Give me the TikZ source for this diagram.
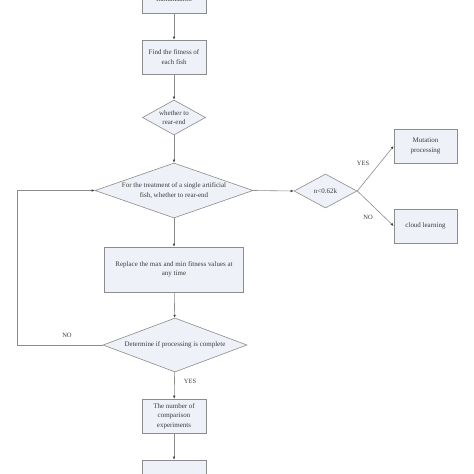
\documentclass[tikz,border=0pt]{standalone}
\usepackage{fontspec}
\setmainfont{Liberation Serif}
\usepackage{xcolor}
\usetikzlibrary{shapes.geometric, arrows.meta, positioning}

\definecolor{boxfill}{HTML}{EEF1F8}
\definecolor{boxline}{HTML}{8C8C8C}
\definecolor{textgray}{HTML}{3C3C3C}

\begin{document}
\begin{tikzpicture}[x=1bp, y=-1bp,
    procbox/.style={rectangle, draw=boxline, fill=boxfill, line width=0.6bp, minimum width=64bp, minimum height=34bp, inner sep=1bp, align=center, text=textgray, font=\fontsize{7}{9.5}\selectfont},
    decision/.style={diamond, draw=boxline, fill=boxfill, line width=0.6bp, inner sep=0pt, align=center, text=textgray, font=\fontsize{7}{9.5}\selectfont},
    flow/.style={draw=boxline, line width=0.6bp, -{Latex[length=3bp, width=2.6bp, color=black!75]}},
    lbl/.style={text=textgray, font=\fontsize{6.5}{8}\selectfont}]
    \useasboundingbox[fill=white] (0,0) rectangle (474,474);

    % main column
    \node[procbox, minimum height=28bp] (init) at (174,-1) {Initialization};
    \node[procbox] (fitness) at (174,57) {Find the fitness of\\each fish};
    \node[decision, minimum width=63bp, minimum height=35bp, aspect=1.8] (rear) at (174,117.5) {whether to\\rear-end};
    \node[decision, minimum width=158bp, minimum height=55bp, aspect=2.87] (treat) at (174,190.5) {For the treatment of a single artificial\\fish, whether to rear-end};
    \node[procbox, minimum width=139bp, minimum height=45bp] (replace) at (174,269.5) {Replace the max and min fitness values at\\any time};
    \node[decision, minimum width=144bp, minimum height=54bp, aspect=2.67] (complete) at (175,345) {Determine if processing is complete};
    \node[procbox] (compare) at (174,416) {The number of\\comparison\\experiments};
    \node[procbox] (last) at (174,477) {};

    % right branch
    \node[decision, minimum width=63bp, minimum height=34bp, aspect=1.85] (ncheck) at (325.5,191) {n<0.62k};
    \node[procbox, minimum width=63bp] (mutation) at (425.5,146) {Mutation\\processing};
    \node[procbox, minimum width=63bp] (cloud) at (425.5,226) {cloud learning};

    % connectors
    \draw[flow] (init) -- (fitness);
    \draw[flow] (fitness) -- (rear);
    \draw[flow] (rear) -- (treat);
    \draw[flow] (treat) -- (replace);
    \draw[flow] (replace) -- (complete);
    \draw[flow] (complete) -- (compare);
    \draw[flow] (compare) -- (last);
    \draw[flow] (treat.east) -- (ncheck.west);
    \draw[flow] (ncheck.east) -- (mutation.west);
    \draw[flow] (ncheck.east) -- (cloud.west);

    % loop back
    \coordinate (loopA) at (17,345);
    \coordinate (loopB) at (17,190.5);
    \draw[flow] (complete.west) -- (loopA) -- (loopB) -- (treat.west);

    % labels
    \node[lbl] (yesdown) at (190,381) {YES};
    \node[lbl] (noloop) at (67,335) {NO};
    \node[lbl] (yesright) at (363,163) {YES};
    \node[lbl] (noright) at (368,217) {NO};
\end{tikzpicture}
\end{document}
